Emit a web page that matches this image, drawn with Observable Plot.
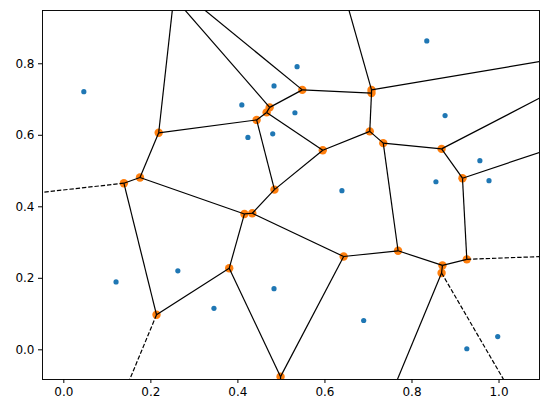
<!DOCTYPE html>
<html><head><meta charset="utf-8">
<script src="https://cdn.jsdelivr.net/npm/d3@7"></script>
<script src="https://cdn.jsdelivr.net/npm/@observablehq/plot@0.6"></script>
<style>body{margin:0;background:#fff}#chart svg{display:block}</style>
</head><body><div id="chart"></div>
<script>
// input points
const ptX = [0.046,0.536,0.483,0.409,0.531,0.423,0.480,0.639,0.834,0.876,0.956,0.855,0.977,0.120,0.262,0.345,0.483,0.689,0.926,0.997];
const ptY = [0.722,0.792,0.738,0.685,0.663,0.594,0.604,0.445,0.864,0.655,0.529,0.470,0.473,0.190,0.221,0.116,0.171,0.082,0.003,0.037];
// Voronoi vertices (last ones lie outside the view)
const vX = [0.218,0.175,0.138,0.213,0.380,0.415,0.433,0.484,0.443,0.473,0.466,0.548,0.595,0.707,0.707,0.703,0.734,0.868,0.916,0.643,0.768,0.870,0.868,0.926,0.498,
            0.2526,0.2405,0.640,1.170,1.160,1.164,0.746,0.498];
const vY = [0.607,0.482,0.466,0.098,0.228,0.380,0.382,0.448,0.643,0.678,0.664,0.727,0.558,0.727,0.718,0.611,0.578,0.562,0.480,0.261,0.277,0.236,0.215,0.253,-0.075,
            0.986,1.033,1.015,0.822,0.746,0.581,-0.143,-0.200];
// finite ridges (vertex index pairs)
const ridgeA = [0,1,2,0,9,11,13,13,9,8,10,0,8,7,7,14,11,13,15,16,17,17,18,18,16,20,21,21,22,19,19,19,4,4,5,1,3,24,9,12];
const ridgeB = [1,2,3,25,25,26,27,28,10,10,12,8,7,6,12,15,14,14,16,17,29,18,30,23,20,21,23,22,31,20,6,24,24,5,6,5,4,32,11,15];
// infinite ridges: start vertex and far point
const rayFrom = [2,3,22,23];
const rayX = [-0.142,0.133,1.053,1.143];
const rayY = [0.428,-0.137,-0.172,0.263];
const xTicks = [0,0.2,0.4,0.6,0.8,1.0];
const yTicks = [0,0.2,0.4,0.6,0.8];

const points = ptX.map((x,i)=>({x, y:ptY[i]}));
const verts = vX.map((x,i)=>({x, y:vY[i]}));
const solid = ridgeA.map((a,i)=>({x1:vX[a], y1:vY[a], x2:vX[ridgeB[i]], y2:vY[ridgeB[i]]}));
const rays = rayFrom.map((a,i)=>({x1:vX[a], y1:vY[a], x2:rayX[i], y2:rayY[i]}));

const chart = Plot.plot({
  width:547, height:413, marginLeft:42, marginRight:8, marginTop:10, marginBottom:34,
  x:{domain:[-0.049,1.093]}, y:{domain:[-0.083,0.949]},
  style:{fontFamily:"DejaVu Sans", fontSize:"12px", color:"black", background:"white"},
  marks:[
    Plot.dot(points,{x:"x", y:"y", r:2.6, fill:"#1f77b4", stroke:"none", clip:true}),
    Plot.dot(verts,{x:"x", y:"y", r:4.2, fill:"#ff7f0e", stroke:"none", clip:true}),
    Plot.link(solid,{x1:"x1", y1:"y1", x2:"x2", y2:"y2", stroke:"black", strokeWidth:1.2, clip:true}),
    Plot.link(rays,{x1:"x1", y1:"y1", x2:"x2", y2:"y2", stroke:"black", strokeWidth:1.2, strokeDasharray:"4.4,1.9", clip:true}),
    Plot.frame({stroke:"black", strokeWidth:0.95}),
    Plot.axisX({ticks:xTicks, tickFormat:d3.format(".1f"), tickSize:4, tickPadding:4, label:null, fontSize:12}),
    Plot.axisY({ticks:yTicks, tickFormat:d3.format(".1f"), tickSize:4, tickPadding:4, label:null, fontSize:12})
  ]
});
document.getElementById("chart").appendChild(chart);
</script></body></html>
